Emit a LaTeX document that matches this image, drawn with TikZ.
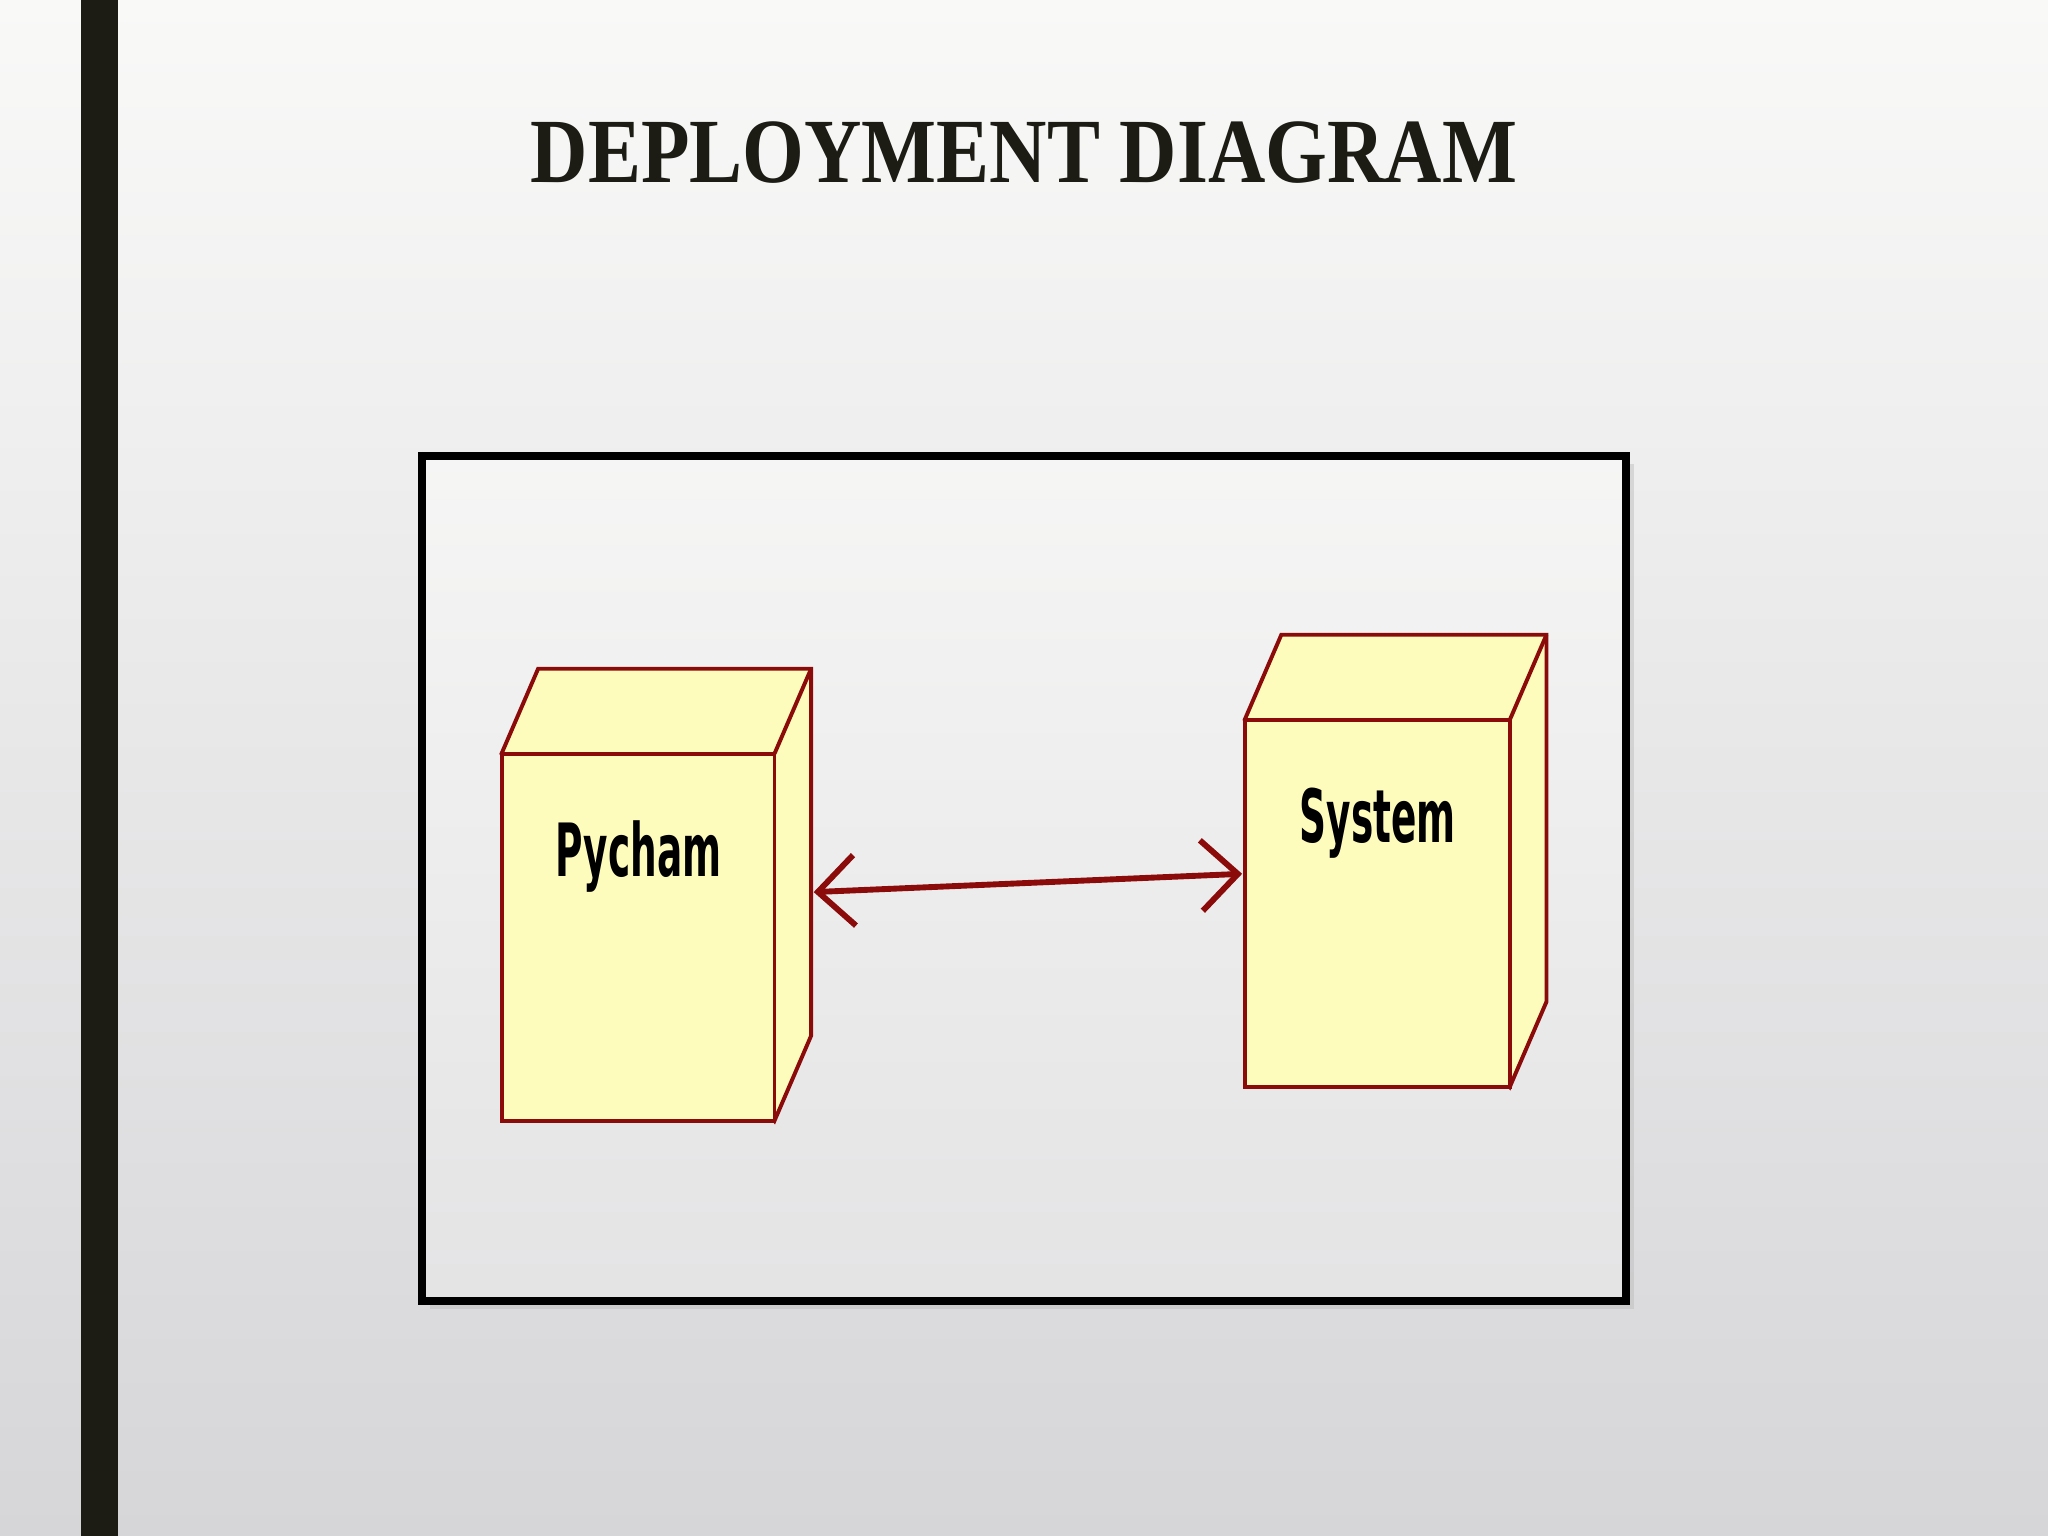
\documentclass[tikz,border=0pt]{standalone}
\usepackage{fontspec}
\setmainfont{Liberation Serif}
\newfontfamily\nodefont{DejaVu Sans}
\usetikzlibrary{arrows.meta}
\definecolor{bgtop}{HTML}{F9F9F8}
\definecolor{bgbot}{HTML}{D6D5D8}
\definecolor{bar}{HTML}{1C1C14}
\definecolor{nodefill}{HTML}{FEFCBD}
\definecolor{nodeline}{HTML}{8B0A0A}
\tikzset{
  cube/.style={fill=nodefill,draw=nodeline,line width=0.3mm,line join=miter},
  lbl/.style={font=\nodefont\bfseries\fontsize{16}{20}\selectfont,inner sep=0pt,xscale=0.51},
  conn/.style={draw=nodeline,line width=0.45mm,{Straight Barb[length=2.8mm,width=5.4mm,line width=0.45mm]}-{Straight Barb[length=2.8mm,width=5.4mm,line width=0.45mm]}}
}
\begin{document}
\begin{tikzpicture}[x=0.1mm,y=-0.1mm]
\useasboundingbox (0,0) rectangle (1568,1176);
\shade[top color=bgtop,bottom color=bgbot] (0,0) rectangle (1568,1176);
\fill[bar] (62,0) rectangle (90,1176);
\node[font=\bfseries\fontsize{20}{24}\selectfont,text=bar,xscale=0.865] (title) at (784,117) {DEPLOYMENT DIAGRAM};
% frame
\fill[black!25,opacity=0.5] (329,355) rectangle (1251,1002);
\shade[top color=bgtop!90!bgbot,bottom color=bgtop!40!bgbot] (323,349) rectangle (1245,996);
\draw[line width=0.6mm] (323,349) rectangle (1245,996);
% Pycham
\draw[cube] (384,577) -- (412,512) -- (621,512) -- (621,793) -- (593,858) -- cycle;
\draw[cube] (384,577) rectangle (593,858);
\draw[cube] (593,577) -- (621,512);
\node[lbl] (pycham) at (489,656) {Pycham};
% System
\draw[cube] (953,551) -- (981,486) -- (1184,486) -- (1184,767) -- (1156,832) -- cycle;
\draw[cube] (953,551) rectangle (1156,832);
\draw[cube] (1156,551) -- (1184,486);
\node[lbl] (system) at (1055,630) {System};
\coordinate (pe) at (623,683);
\coordinate (se) at (951,669);
\draw[conn] (pe) -- (se);
\end{tikzpicture}
\end{document}
